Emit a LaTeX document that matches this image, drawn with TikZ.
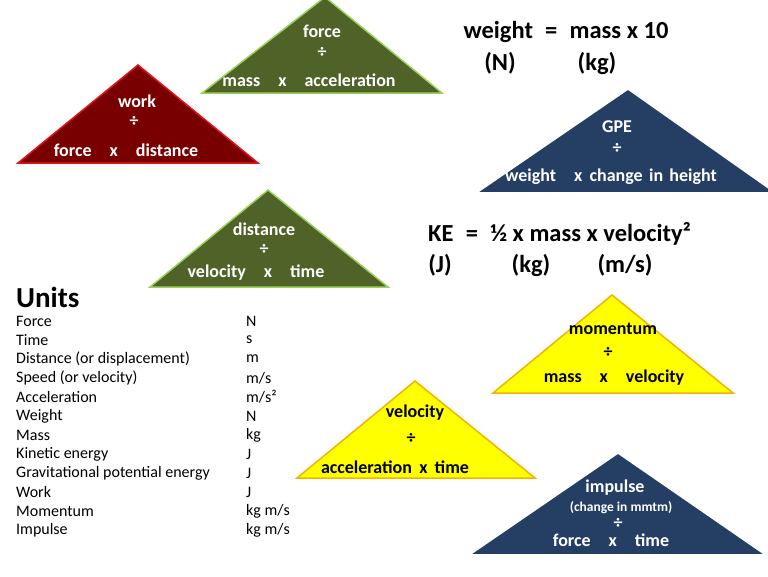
\documentclass[tikz,border=0pt]{standalone}
\usepackage{fontspec}
\setmainfont{Carlito}
\definecolor{olive-fill}{HTML}{4F6228}
\definecolor{olive-edge}{HTML}{9BD25A}
\definecolor{wine-fill}{HTML}{780000}
\definecolor{wine-edge}{HTML}{E8101A}
\definecolor{navy-fill}{HTML}{243F63}
\definecolor{sun-fill}{HTML}{FFFF00}
\definecolor{sun-edge}{HTML}{F2B400}

\begin{document}
\begin{tikzpicture}[x=1pt, y=-1pt,
        every node/.style={inner sep=0pt, font=\bfseries\fontsize{18}{20}\selectfont},
        tri/.style={line width=1.5pt, line join=miter},
        olivetri/.style={tri, fill=olive-fill, draw=olive-edge},
        winetri/.style={tri, fill=wine-fill, draw=wine-edge},
        navytri/.style={tri, fill=navy-fill, draw=navy-fill},
        suntri/.style={tri, fill=sun-fill, draw=sun-edge},
        whitetxt/.style={text=white},
        blacktxt/.style={text=black},
        eqtxt/.style={font=\bfseries\fontsize{24.5}{28}\selectfont},
        listtxt/.style={anchor=west, font=\fontsize{16}{18}\selectfont}]
      \useasboundingbox (0,0) rectangle (768,576);
      % triangles
      \draw[olivetri] (202,93) -- (325,-3) -- (442,93) -- cycle;
      \draw[winetri] (18,163) -- (138,65) -- (258,163) -- cycle;
      \draw[navytri] (482,191) -- (628,91) -- (770,191) -- cycle;
      \draw[olivetri] (150,287) -- (268,190) -- (388,287) -- cycle;
      \draw[suntri] (493,393) -- (612,295) -- (733,393) -- cycle;
      \draw[suntri] (297,478) -- (415,381) -- (535,478) -- cycle;
      \draw[navytri] (475,553) -- (618,455) -- (760,553) -- cycle;
      % force
      \node[whitetxt] (forceTop) at (322,31) {force};
      \node[whitetxt] (forceDiv) at (322,52) {÷};
      \node[whitetxt] (forceBot) at (309,80) {mass\quad x\quad acceleration};
      % work
      \node[whitetxt] (workTop) at (137,101) {work};
      \node[whitetxt] (workDiv) at (134,121) {÷};
      \node[whitetxt] (workBot) at (126,150) {force\quad x\quad distance};
      % GPE
      \node[whitetxt] (gpeTop) at (617,127) {GPE};
      \node[whitetxt] (gpeDiv) at (617,148) {÷};
      \node[whitetxt] (gpeBot) at (611,177) {weight\quad x\hspace{0.4em}change\hspace{0.35em}in\hspace{0.35em}height};
      % distance
      \node[whitetxt] (distTop) at (264,229) {distance};
      \node[whitetxt] (distDiv) at (264,249) {÷};
      \node[whitetxt] (distBot) at (256,273) {velocity\quad x\quad time};
      % momentum
      \node[blacktxt] (momTop) at (613,329) {momentum};
      \node[blacktxt] (momDiv) at (608,352) {÷};
      \node[blacktxt] (momBot) at (614,378) {mass\quad x\quad velocity};
      % velocity
      \node[blacktxt] (velTop) at (415,413) {velocity};
      \node[blacktxt] (velDiv) at (411,438) {÷};
      \node[blacktxt] (velBot) at (395,467) {acceleration\hspace{0.4em}x\hspace{0.4em}time};
      % impulse
      \node[whitetxt] (impTop) at (615,488) {impulse};
      \node[whitetxt, font=\bfseries\fontsize{13.5}{15}\selectfont] (impSub) at (621,508) {(change in mmtm)};
      \node[whitetxt] (impDiv) at (618,523) {÷};
      \node[whitetxt] (impBot) at (611,540) {force\quad x\quad time};
      % formulas
      \node[eqtxt] (weightEq) at (566,32) {weight\enspace=\enspace mass x 10};
      \node[eqtxt] (weightN) at (500,63) {(N)};
      \node[eqtxt] (weightKg) at (597,63) {(kg)};
      \node[eqtxt, anchor=west] (keEq) at (428,234) {KE\enspace=\enspace½ x mass x velocity²};
      \node[eqtxt] (keJ) at (440,265) {(J)};
      \node[eqtxt] (keKg) at (531,265) {(kg)};
      \node[eqtxt] (keMs) at (625,265) {(m/s)};
      % units table
      \node[anchor=west, font=\bfseries\fontsize{29}{32}\selectfont] (unitsHead) at (16,297) {Units};
      \foreach \qty/\unit [count=\i from 0] in {Force/N, Time/s,
          Distance (or displacement)/m, Speed (or velocity)/m\slash s,
          Acceleration/m\slash s², Weight/N, Mass/kg, Kinetic energy/J,
          Gravitational potential energy/J, Work/J, Momentum/kg m\slash s,
          Impulse/kg m\slash s} {
        \node[listtxt] (qty\i) at (16,321+19*\i) {\qty};
        \node[listtxt] (unit\i) at (246,321+19*\i) {\unit};
      }
    \end{tikzpicture}
\end{document}
